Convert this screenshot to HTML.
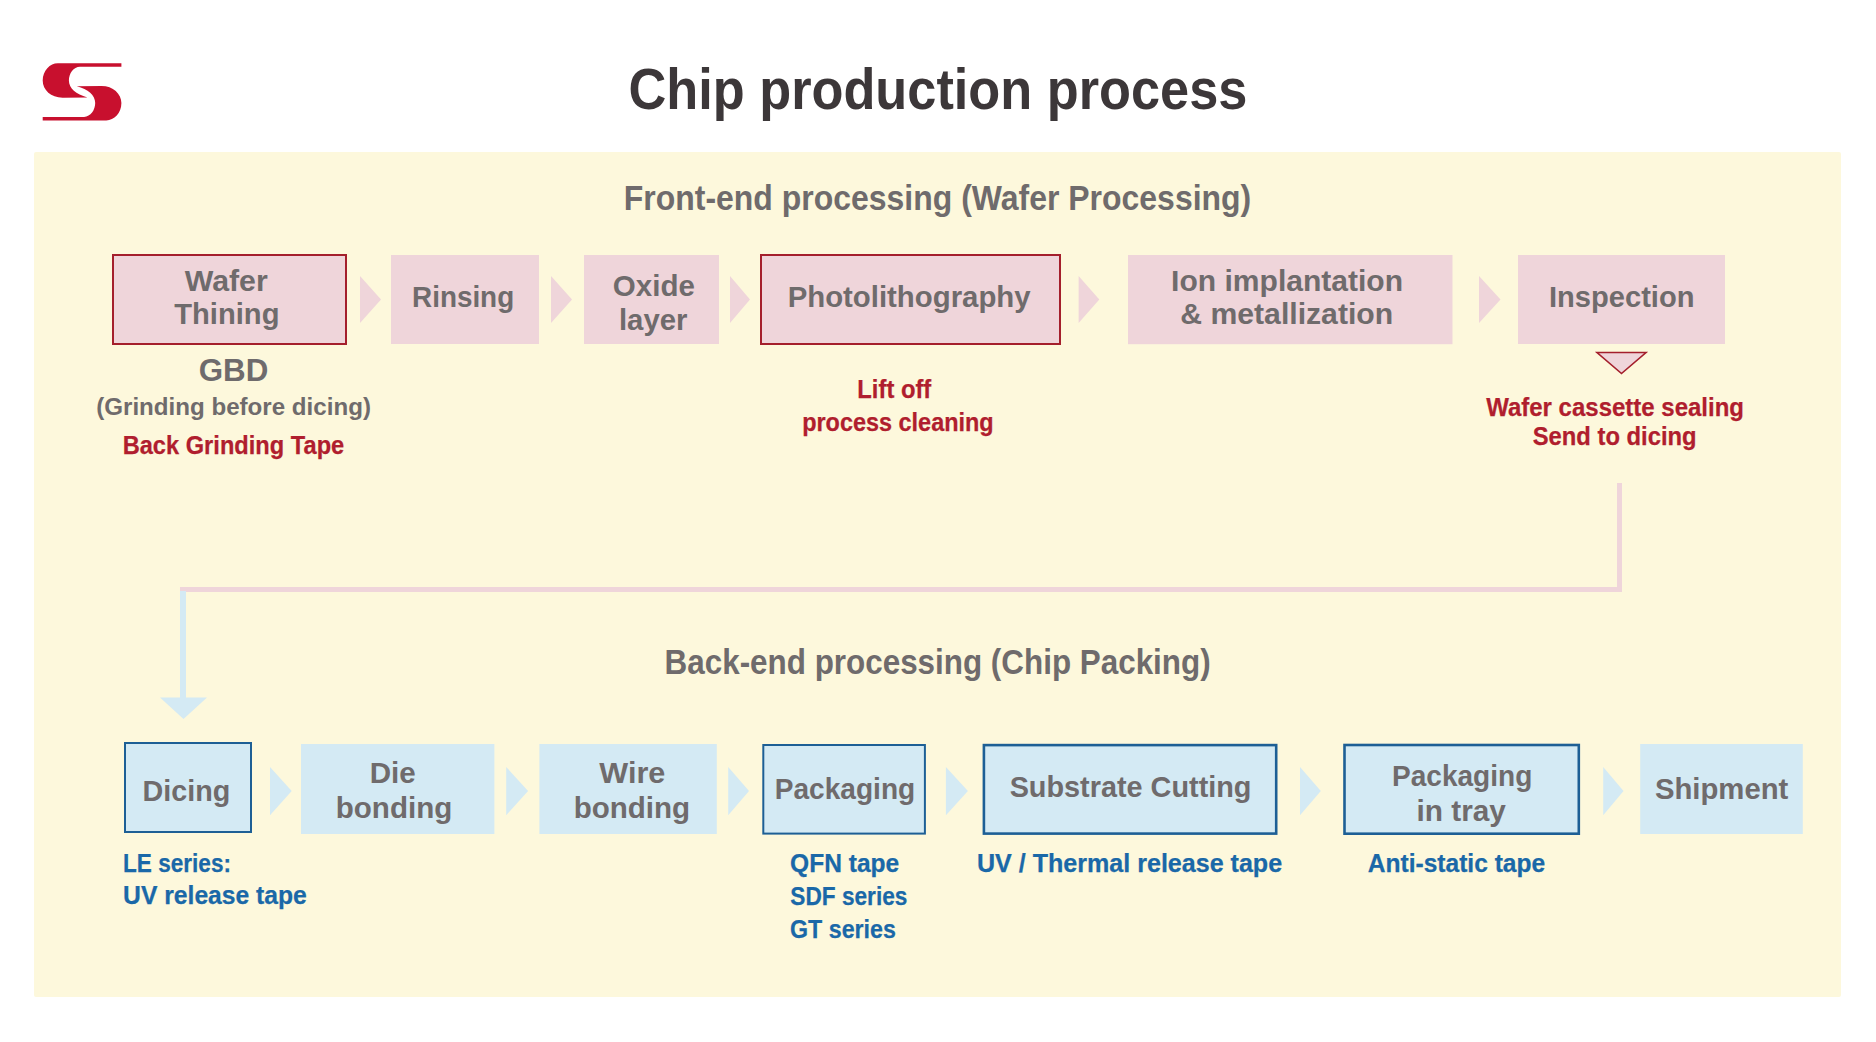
<!DOCTYPE html>
<html><head><meta charset="utf-8"><title>Chip production process</title>
<style>html,body{margin:0;padding:0;background:#fff;width:1876px;height:1042px;overflow:hidden}
svg{display:block} text{font-family:"Liberation Sans",sans-serif;font-weight:bold}</style></head>
<body><svg width="1876" height="1042" viewBox="0 0 1876 1042">
<rect x="34" y="152" width="1807" height="845" rx="2" fill="#fdf8dc"/>
<path d="M57.8 63.2 L121.4 63.2 L121.4 66.8 L80 66.8 C73.5 67 68.9 73.5 68.9 80.6 C68.9 88.5 76 94.5 87.4 97.4 L62.6 97.8 C51 97.8 42.7 90 42.7 80.6 C42.7 70.5 50 63.2 57.8 63.2 Z" fill="#c8102e"/>
<path d="M57.8 63.2 L121.4 63.2 L121.4 66.8 L80 66.8 C73.5 67 68.9 73.5 68.9 80.6 C68.9 88.5 76 94.5 87.4 97.4 L62.6 97.8 C51 97.8 42.7 90 42.7 80.6 C42.7 70.5 50 63.2 57.8 63.2 Z" fill="#c8102e" transform="rotate(180 82.05 91.85)"/>
<rect x="113.0" y="255.0" width="233" height="89" fill="#efd5da" stroke="#a41f2c" stroke-width="2"/>
<rect x="391" y="255" width="148" height="89" fill="#efd5da"/>
<rect x="584" y="255" width="135" height="89" fill="#efd5da"/>
<rect x="761.0" y="255.0" width="299" height="89" fill="#efd5da" stroke="#a41f2c" stroke-width="2"/>
<rect x="1128" y="255" width="324.5" height="89.19999999999999" fill="#efd5da"/>
<rect x="1518" y="255" width="207" height="89" fill="#efd5da"/>
<polygon points="360,276 381,299.5 360,323" fill="#efd5da"/>
<polygon points="551,276 572,299.5 551,323" fill="#efd5da"/>
<polygon points="730,276 750,299.5 730,323" fill="#efd5da"/>
<polygon points="1078.6,276 1099.3,299.5 1078.6,323" fill="#efd5da"/>
<polygon points="1479,276 1500.5,299.5 1479,323" fill="#efd5da"/>
<polygon points="1597,352.5 1646,352.5 1621.5,373.5" fill="#efd5da" stroke="#a41f2c" stroke-width="1.6"/>
<rect x="1617" y="483" width="5" height="109" fill="#efd5da"/>
<rect x="180" y="587" width="1442" height="5" fill="#efd5da"/>
<rect x="180" y="591" width="6" height="107" fill="#d4eaf4"/>
<polygon points="160,697.5 207,697.5 183.5,719" fill="#d4eaf4"/>
<rect x="125.0" y="743.0" width="126" height="89" fill="#d4eaf4" stroke="#1d5f95" stroke-width="2"/>
<rect x="301" y="744" width="193.39999999999998" height="90" fill="#d4eaf4"/>
<rect x="539.4" y="744" width="177.39999999999998" height="90" fill="#d4eaf4"/>
<rect x="763.3" y="745.0" width="161.60000000000002" height="88.60000000000002" fill="#d4eaf4" stroke="#1d5f95" stroke-width="2"/>
<rect x="983.9" y="745.0999999999999" width="292.29999999999995" height="88.50000000000003" fill="#d4eaf4" stroke="#1d5f95" stroke-width="2.6"/>
<rect x="1344.5" y="745.0" width="234.29999999999987" height="88.69999999999996" fill="#d4eaf4" stroke="#1d5f95" stroke-width="2.6"/>
<rect x="1640.2" y="744" width="162.5999999999999" height="90" fill="#d4eaf4"/>
<polygon points="270,766.9 291.7,791.0999999999999 270,815.3" fill="#d4eaf4"/>
<polygon points="506.2,766.9 528.1,791.0999999999999 506.2,815.3" fill="#d4eaf4"/>
<polygon points="728.2,766.9 749,791.0999999999999 728.2,815.3" fill="#d4eaf4"/>
<polygon points="945.9,766.9 967.9,791.0999999999999 945.9,815.3" fill="#d4eaf4"/>
<polygon points="1300,766.9 1320.8,791.0999999999999 1300,815.3" fill="#d4eaf4"/>
<polygon points="1603.2,766.9 1623.5,791.0999999999999 1603.2,815.3" fill="#d4eaf4"/>
<text x="628.51" y="109.00" font-size="57.60" fill="#3c3739" textLength="618.80" lengthAdjust="spacingAndGlyphs">Chip production process</text>
<text x="623.76" y="210.00" font-size="34.56" fill="#6f6b6c" textLength="627.51" lengthAdjust="spacingAndGlyphs">Front-end processing (Wafer Processing)</text>
<text x="184.70" y="290.70" font-size="29.81" fill="#6f6b6c" textLength="83.04" lengthAdjust="spacingAndGlyphs">Wafer</text>
<text x="174.31" y="323.70" font-size="29.81" fill="#6f6b6c" textLength="105.13" lengthAdjust="spacingAndGlyphs">Thining</text>
<text x="412.05" y="306.70" font-size="29.81" fill="#6f6b6c" textLength="102.10" lengthAdjust="spacingAndGlyphs">Rinsing</text>
<text x="612.82" y="296.00" font-size="29.81" fill="#6f6b6c" textLength="82.03" lengthAdjust="spacingAndGlyphs">Oxide</text>
<text x="618.95" y="330.00" font-size="29.81" fill="#6f6b6c" textLength="68.51" lengthAdjust="spacingAndGlyphs">layer</text>
<text x="787.65" y="306.80" font-size="29.81" fill="#6f6b6c" textLength="242.96" lengthAdjust="spacingAndGlyphs">Photolithography</text>
<text x="1171.10" y="290.50" font-size="29.81" fill="#6f6b6c" textLength="231.96" lengthAdjust="spacingAndGlyphs">Ion implantation</text>
<text x="1180.29" y="323.80" font-size="29.81" fill="#6f6b6c" textLength="212.92" lengthAdjust="spacingAndGlyphs">&amp; metallization</text>
<text x="1548.96" y="306.80" font-size="29.81" fill="#6f6b6c" textLength="145.50" lengthAdjust="spacingAndGlyphs">Inspection</text>
<text x="198.75" y="380.90" font-size="31.10" fill="#6f6b6c" textLength="69.57" lengthAdjust="spacingAndGlyphs">GBD</text>
<text x="96.19" y="415.20" font-size="23.76" fill="#6f6b6c" textLength="274.77" lengthAdjust="spacingAndGlyphs">(Grinding before dicing)</text>
<text x="122.64" y="453.70" font-size="24.91" fill="#b01e2e" stroke="#b01e2e" stroke-width="0.25" textLength="221.62" lengthAdjust="spacingAndGlyphs">Back Grinding Tape</text>
<text x="857.34" y="397.60" font-size="24.91" fill="#b01e2e" stroke="#b01e2e" stroke-width="0.25" textLength="73.95" lengthAdjust="spacingAndGlyphs">Lift off</text>
<text x="802.16" y="431.30" font-size="24.91" fill="#b01e2e" stroke="#b01e2e" stroke-width="0.25" textLength="191.48" lengthAdjust="spacingAndGlyphs">process cleaning</text>
<text x="1486.20" y="415.60" font-size="24.91" fill="#b01e2e" stroke="#b01e2e" stroke-width="0.25" textLength="257.77" lengthAdjust="spacingAndGlyphs">Wafer cassette sealing</text>
<text x="1532.69" y="445.30" font-size="24.91" fill="#b01e2e" stroke="#b01e2e" stroke-width="0.25" textLength="163.95" lengthAdjust="spacingAndGlyphs">Send to dicing</text>
<text x="664.60" y="673.50" font-size="34.56" fill="#6f6b6c" textLength="546.05" lengthAdjust="spacingAndGlyphs">Back-end processing (Chip Packing)</text>
<text x="142.49" y="800.50" font-size="29.81" fill="#6f6b6c" textLength="87.80" lengthAdjust="spacingAndGlyphs">Dicing</text>
<text x="369.73" y="783.40" font-size="29.81" fill="#6f6b6c" textLength="46.04" lengthAdjust="spacingAndGlyphs">Die</text>
<text x="335.73" y="817.60" font-size="29.81" fill="#6f6b6c" textLength="116.63" lengthAdjust="spacingAndGlyphs">bonding</text>
<text x="599.30" y="783.40" font-size="29.81" fill="#6f6b6c" textLength="66.07" lengthAdjust="spacingAndGlyphs">Wire</text>
<text x="573.63" y="817.60" font-size="29.81" fill="#6f6b6c" textLength="116.53" lengthAdjust="spacingAndGlyphs">bonding</text>
<text x="774.73" y="799.00" font-size="29.81" fill="#6f6b6c" textLength="140.49" lengthAdjust="spacingAndGlyphs">Packaging</text>
<text x="1009.64" y="797.20" font-size="29.81" fill="#6f6b6c" textLength="241.85" lengthAdjust="spacingAndGlyphs">Substrate Cutting</text>
<text x="1392.04" y="786.40" font-size="29.81" fill="#6f6b6c" textLength="140.28" lengthAdjust="spacingAndGlyphs">Packaging</text>
<text x="1416.41" y="820.70" font-size="29.81" fill="#6f6b6c" textLength="89.52" lengthAdjust="spacingAndGlyphs">in tray</text>
<text x="1654.92" y="798.60" font-size="29.81" fill="#6f6b6c" textLength="133.44" lengthAdjust="spacingAndGlyphs">Shipment</text>
<text x="123.02" y="871.90" font-size="24.91" fill="#1a68a8" stroke="#1a68a8" stroke-width="0.25" textLength="107.95" lengthAdjust="spacingAndGlyphs">LE series:</text>
<text x="123.12" y="904.30" font-size="24.91" fill="#1a68a8" stroke="#1a68a8" stroke-width="0.25" textLength="183.74" lengthAdjust="spacingAndGlyphs">UV release tape</text>
<text x="790.12" y="871.70" font-size="24.91" fill="#1a68a8" stroke="#1a68a8" stroke-width="0.25" textLength="109.14" lengthAdjust="spacingAndGlyphs">QFN tape</text>
<text x="790.32" y="904.50" font-size="24.91" fill="#1a68a8" stroke="#1a68a8" stroke-width="0.25" textLength="117.07" lengthAdjust="spacingAndGlyphs">SDF series</text>
<text x="790.07" y="938.20" font-size="24.91" fill="#1a68a8" stroke="#1a68a8" stroke-width="0.25" textLength="105.81" lengthAdjust="spacingAndGlyphs">GT series</text>
<text x="977.00" y="872.00" font-size="24.91" fill="#1a68a8" stroke="#1a68a8" stroke-width="0.25" textLength="305.12" lengthAdjust="spacingAndGlyphs">UV / Thermal release tape</text>
<text x="1367.76" y="871.70" font-size="24.91" fill="#1a68a8" stroke="#1a68a8" stroke-width="0.25" textLength="177.45" lengthAdjust="spacingAndGlyphs">Anti-static tape</text>
</svg></body></html>
